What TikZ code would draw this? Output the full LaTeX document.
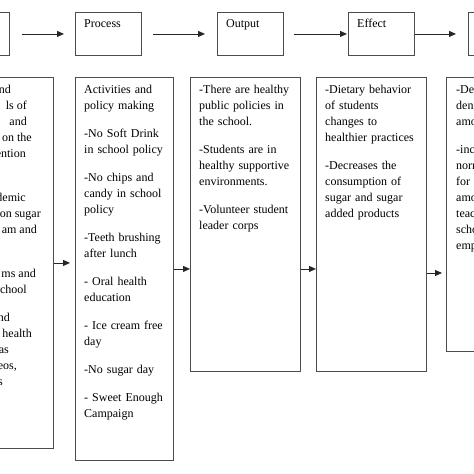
\documentclass[tikz,border=0pt]{standalone}
\usepackage{fontspec}
\setmainfont{Liberation Serif}
\usetikzlibrary{arrows.meta}

\tikzset{
  stagebox/.style={draw=black!70, line width=0.9pt, inner sep=0pt, anchor=north west},
  stagetext/.style={anchor=base west, inner sep=0pt, text width=120pt, align=left,
    font=\fontsize{12}{16}\selectfont},
  tailtext/.style={anchor=base east, inner sep=0pt, font=\fontsize{12}{16}\selectfont},
  flow/.style={draw=black!85, line width=0.9pt, -{Triangle[length=7pt,width=6pt]}},
}

\begin{document}
\begin{tikzpicture}[x=1pt, y=-1pt]
  \useasboundingbox (0,0) rectangle (474,474);
  \clip (0,0) rectangle (474,474);

  % Draw heading boxes
  \node[stagebox, minimum width=66pt, minimum height=43pt] (inputhead) at (-57,12) {};
  \node[stagebox, minimum width=66pt, minimum height=43pt] (processhead) at (75,12) {};
  \node[stagebox, minimum width=66pt, minimum height=43pt] (outputhead) at (217,12) {};
  \node[stagebox, minimum width=66pt, minimum height=43pt] (effecthead) at (348,12) {};
  \node[stagebox, minimum width=66pt, minimum height=43pt] (impacthead) at (468,12) {};

  \node[stagetext] (processlabel) at (84,27) {Process};
  \node[stagetext] (outputlabel) at (226,27) {Output};
  \node[stagetext] (effectlabel) at (357,27) {Effect};

  % Draw content boxes
  \node[stagebox, minimum width=110pt, minimum height=371pt] (input) at (-57,77) {};
  \node[stagebox, minimum width=98pt, minimum height=383pt] (process) at (75,77) {};
  \node[stagebox, minimum width=110pt, minimum height=294pt] (output) at (190,77) {};
  \node[stagebox, minimum width=110pt, minimum height=294pt] (effect) at (316,77) {};
  \node[stagebox, minimum width=110pt, minimum height=274pt] (impact) at (446,77) {};

  % Texts
  \foreach \y/\x/\t in {93/11/and, 109/27/ls of, 125/27/and, 141/32/on the, 157/26/ention,
      201/26/demic, 217/41/on sugar, 233/37/am and, 277/36/ms and, 293/27/chool,
      321/10/nd, 337/32/health, 353/9/as, 369/17/{eos,}, 385/3/s}
    \node[tailtext] (intail\y) at (\x,\y) {\t};

  \node[stagetext] (processtext) at (84,93) {Activities and\\ policy making\\[12pt]
    -No Soft Drink\\ in school policy\\[12pt]
    -No chips and\\ candy in school\\ policy\\[12pt]
    -Teeth brushing\\ after lunch\\[12pt]
    - Oral health\\ education\\[12pt]
    - Ice cream free\\ day\\[12pt]
    -No sugar day\\[12pt]
    - Sweet Enough\\ Campaign};

  \node[stagetext] (outputtext) at (199,93) {-There are healthy\\ public policies in\\ the school.\\[12pt]
    -Students are in\\ healthy supportive\\ environments.\\[12pt]
    -Volunteer student\\ leader corps};

  \node[stagetext] (effecttext) at (325,93) {-Dietary behavior\\ of students\\ changes to\\ healthier practices\\[12pt]
    -Decreases the\\ consumption of\\ sugar and sugar\\ added products};

  \node[stagetext] (impacttext) at (456,93) {-De\\ den\\ amo\\[12pt]
    -inc\\ norm\\ for\\ amo\\ teac\\ scho\\ emp};

  % Draw arrows
  \draw[flow, shorten <=12pt, shorten >=11pt] (inputhead) -- (processhead);
  \draw[flow, shorten <=11pt, shorten >=12pt] (processhead) -- (outputhead);
  \draw[flow, shorten <=10pt, shorten >=1pt] (outputhead) -- (effecthead);
  \draw[flow, shorten >=12pt] (effecthead) -- (impacthead);

  \draw[flow, shorten >=5pt] (input.east) -- (input.east -| process.west);
  \draw[flow] (process.east) -- (process.east -| output.west);
  \draw[flow] (output.east |- process.east) -- (effect.west |- process.east);
  \draw[flow, shorten >=4pt] (effect.east |- 0,273) -- (impact.west |- 0,273);
\end{tikzpicture}
\end{document}
